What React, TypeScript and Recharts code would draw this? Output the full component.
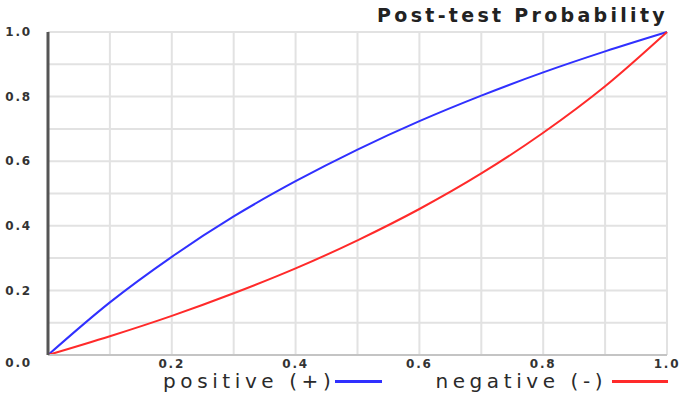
import React from 'react';
import { LineChart, Line, XAxis, YAxis, CartesianGrid, Legend } from 'recharts';

// pre-test probability (x axis)
const preTest = [0, 0.1, 0.2, 0.3, 0.4, 0.5, 0.6, 0.7, 0.8, 0.9, 1.0];
// post-test probability
const positiveValues = [0, 0.163, 0.304, 0.429, 0.538, 0.636, 0.724, 0.803, 0.875, 0.94, 1.0];
const negativeValues = [0, 0.058, 0.121, 0.191, 0.268, 0.355, 0.452, 0.562, 0.688, 0.832, 1.0];

const gridTicks = [0, 0.1, 0.2, 0.3, 0.4, 0.5, 0.6, 0.7, 0.8, 0.9, 1.0];
const labelledTicks = [0.2, 0.4, 0.6, 0.8, 1.0];

const data = preTest.map((p, i) => ({
  p,
  positive: positiveValues[i],
  negative: negativeValues[i],
}));

const FONT = '"DejaVu Sans", sans-serif';
const TEXT = '#333';

const isLabelled = (v: number) => labelledTicks.some(t => Math.abs(t - v) < 1e-6);

const YTick = ({ x, y, payload }: any) => {
  const v = payload.value;
  if (!(isLabelled(v) || v === 0)) return null;
  return (
    <text
      x={x}
      y={y + (v === 0 ? 8 : 0)}
      dy="0.35em"
      textAnchor="end"
      fill={TEXT}
      fontFamily={FONT}
      fontSize={12}
      fontWeight="bold"
      letterSpacing={1.8}
    >
      {v.toFixed(1)}
    </text>
  );
};

const XTick = ({ x, y, payload }: any) => {
  const v = payload.value;
  if (!isLabelled(v)) return null;
  return (
    <text
      x={x}
      y={y}
      dy="0.71em"
      textAnchor="middle"
      fill={TEXT}
      fontFamily={FONT}
      fontSize={12}
      fontWeight="bold"
      letterSpacing={1.8}
    >
      {v.toFixed(1)}
    </text>
  );
};

const legendItems = [
  { label: 'positive (+)', color: '#3030ff', width: 47, gap: 0 },
  { label: 'negative (-)', color: '#ff2a2a', width: 56, gap: 5 },
];

const LegendContent = () => (
  <div
    style={{
      height: 22,
      display: 'flex',
      justifyContent: 'flex-start',
      alignItems: 'center',
      gap: 53,
      paddingLeft: 163,
      fontFamily: FONT,
      fontSize: 20,
      letterSpacing: 4.6,
      color: '#2a2a2a',
      whiteSpace: 'nowrap',
    }}
  >
    {legendItems.map(item => (
      <div key={item.label} style={{ display: 'flex', alignItems: 'center', flexShrink: 0 }}>
        <span>{item.label}</span>
        <span
          style={{
            display: 'inline-block',
            width: item.width,
            height: 3,
            marginLeft: item.gap,
            background: item.color,
            flexShrink: 0,
          }}
        />
      </div>
    ))}
  </div>
);

const App: React.FC = () => {
  return (
    <div style={{ position: 'absolute', left: 0, top: 0, width: 685, height: 406, background: '#fff' }}>
      <div
        style={{
          position: 'absolute',
          right: 17,
          top: 4,
          fontFamily: FONT,
          fontSize: 19,
          fontWeight: 'bold',
          letterSpacing: 3.3,
          color: '#222',
          whiteSpace: 'nowrap',
        }}
      >
        Post-test Probability
      </div>
      <LineChart
        width={685}
        height={406}
        data={data}
        margin={{ top: 32, right: 18, bottom: 14, left: 0 }}
      >
        <CartesianGrid stroke="#e2e2e2" strokeWidth={2} />
        <XAxis
          dataKey="p"
          type="number"
          domain={[0, 1]}
          ticks={gridTicks}
          tick={<XTick />}
          tickSize={0}
          tickMargin={4}
          height={15}
          axisLine={{ stroke: '#c4c4c4', strokeWidth: 2 }}
          interval={0}
        />
        <YAxis
          type="number"
          domain={[0, 1]}
          ticks={gridTicks}
          tick={<YTick />}
          tickSize={0}
          tickMargin={16}
          width={48}
          axisLine={{ stroke: '#555', strokeWidth: 3 }}
          interval={0}
        />
        <Legend
          verticalAlign="bottom"
          wrapperStyle={{ left: 0, width: 685 }}
          content={<LegendContent />}
        />
        <Line
          type="monotone"
          dataKey="positive"
          stroke="#3030ff"
          strokeWidth={2}
          dot={false}
          isAnimationActive={false}
        />
        <Line
          type="monotone"
          dataKey="negative"
          stroke="#ff2a2a"
          strokeWidth={2}
          dot={false}
          isAnimationActive={false}
        />
      </LineChart>
    </div>
  );
};

export default App;
